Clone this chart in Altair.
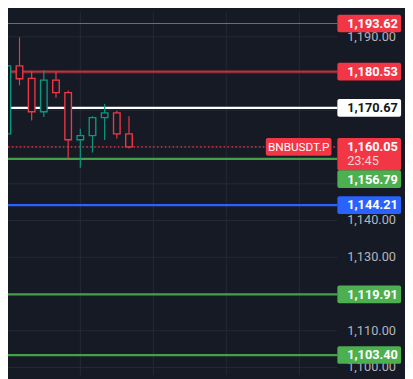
import altair as alt
import pandas as pd

# ---- data ----
candle_idx = list(range(11))
opens  = [1163.6, 1182.1, 1178.7, 1169.6, 1178.2, 1174.8, 1162.0, 1163.1, 1168.0, 1169.3, 1163.6]
highs  = [1182.6, 1189.8, 1180.6, 1180.9, 1180.6, 1175.4, 1165.0, 1168.4, 1171.7, 1169.9, 1168.4]
lows   = [1163.1, 1176.8, 1167.2, 1168.2, 1173.4, 1156.9, 1154.4, 1158.5, 1161.9, 1162.3, 1159.6]
closes = [1182.1, 1178.6, 1169.6, 1178.2, 1174.8, 1162.0, 1163.1, 1168.0, 1169.3, 1163.6, 1160.05]

grid_ticks = [1100, 1110, 1120, 1130, 1140, 1150, 1160, 1170, 1180, 1190]
# price-scale labels that are not hidden behind a tag in the reference
label_ticks = [1100, 1110, 1130, 1140, 1190]
time_grid = [6, 12, 18, 24]

level_values = [1193.62, 1180.53, 1170.67, 1156.79, 1144.21, 1119.91, 1103.40]
level_names  = ["r1", "r2", "w", "g1", "b", "g2", "g3"]
level_colors = ["#e23a48", "#b7343f", "#ffffff", "#43a047", "#2962ff", "#43a047", "#43a047"]
tag_colors   = ["#f23645", "#f23645", "#ffffff", "#4caf50", "#2962ff", "#4caf50", "#4caf50"]
tag_text_col = ["#ffffff", "#ffffff", "#131722", "#ffffff", "#ffffff", "#ffffff", "#ffffff"]
level_widths = [1.2, 2.2, 2.2, 2.2, 2.2, 2.2, 2.2]

last_price = 1160.05
symbol = "BNBUSDT.P"
countdown = "23:45"

# ---- layout ----
BG = "#161a25"
GRID = "#252a36"
W = 336
H = 371
TX = 346
y_scale = alt.Scale(domain=[1097.88, 1196.84], nice=False, zero=False)
x_scale = alt.Scale(domain=[0.055, 27.13], nice=False, zero=False)

candles = pd.DataFrame({"i": candle_idx, "open": opens, "high": highs,
                        "low": lows, "close": closes})
levels = pd.DataFrame({"name": level_names, "level": level_values,
                       "lcolor": level_colors, "tcolor": tag_colors,
                       "txtcolor": tag_text_col, "lw": level_widths})
gticks = pd.DataFrame({"p": grid_ticks})
lticks = pd.DataFrame({"p": label_ticks})
tgrid = pd.DataFrame({"t": time_grid})
last = pd.DataFrame({"p": [last_price], "sym": [symbol], "cd": [countdown]})

FONT = "Roboto"

grid_h = alt.Chart(gticks).mark_rule(color=GRID, strokeWidth=1).encode(
    y=alt.Y("p:Q", scale=y_scale, axis=None),
    x=alt.value(0), x2=alt.value(W))

grid_v = alt.Chart(tgrid).mark_rule(color=GRID, strokeWidth=1).encode(
    x=alt.X("t:Q", scale=x_scale, axis=None),
    y=alt.value(0), y2=alt.value(H))

axis_labels = alt.Chart(lticks).mark_text(
    align="left", baseline="middle", font=FONT, fontSize=13, color="#b2b5be"
).encode(y=alt.Y("p:Q", scale=y_scale, axis=None), x=alt.value(TX),
         text=alt.Text("p:Q", format=",.2f"))

dotted = alt.Chart(last).mark_rule(color="#f23645", strokeWidth=1.2,
                                   strokeDash=[1.5, 2.5]).encode(
    y=alt.Y("p:Q", scale=y_scale, axis=None), x=alt.value(0), x2=alt.value(W))

level_lines = alt.Chart(levels).mark_rule().encode(
    y=alt.Y("level:Q", scale=y_scale, axis=None),
    x=alt.value(0), x2=alt.value(W),
    color=alt.Color("lcolor:N", scale=None),
    strokeWidth=alt.StrokeWidth("lw:Q", scale=None))

dir_scale = alt.Scale(domain=["up", "down"], range=["#089981", "#f23645"])
cbase = alt.Chart(candles).transform_calculate(
    dir="datum.close >= datum.open ? 'up' : 'down'",
    bx1="datum.i - 0.27",
    bx2="datum.i + 0.27",
)

wicks = cbase.mark_rule(strokeWidth=1.2, clip=True).encode(
    x=alt.X("i:Q", scale=x_scale, axis=None),
    y=alt.Y("low:Q", scale=y_scale, axis=None), y2="high:Q",
    color=alt.Color("dir:N", scale=dir_scale, legend=None))

bodies = cbase.mark_rect(fill=BG, strokeWidth=1.4, clip=True).encode(
    x=alt.X("bx1:Q", scale=x_scale, axis=None), x2="bx2:Q",
    y=alt.Y("open:Q", scale=y_scale, axis=None), y2="close:Q",
    stroke=alt.Stroke("dir:N", scale=dir_scale, legend=None))

normal_levels = levels[levels["name"] != "g1"]
shift_levels = levels[levels["name"] == "g1"]

def tag_layer(df, shift):
    rect = alt.Chart(df).mark_rect(yOffset=-9 + shift, y2Offset=9 + shift,
                                   cornerRadius=2).encode(
        y=alt.Y("level:Q", scale=y_scale, axis=None), y2="level:Q",
        x=alt.value(336), x2=alt.value(401),
        color=alt.Color("tcolor:N", scale=None))
    txt = alt.Chart(df).mark_text(align="left", baseline="middle", font=FONT,
                                  fontSize=13, fontWeight="bold",
                                  dy=shift + 0.5).encode(
        y=alt.Y("level:Q", scale=y_scale, axis=None), x=alt.value(TX),
        text=alt.Text("level:Q", format=",.2f"),
        color=alt.Color("txtcolor:N", scale=None))
    return rect + txt

last_rect = alt.Chart(last).mark_rect(color="#f23645", yOffset=-9, y2Offset=24,
                                      cornerRadius=2).encode(
    y=alt.Y("p:Q", scale=y_scale, axis=None), y2="p:Q",
    x=alt.value(336), x2=alt.value(401))
last_txt = alt.Chart(last).mark_text(align="left", baseline="middle", font=FONT,
                                     fontSize=13, fontWeight="bold",
                                     color="#ffffff", dy=0.5).encode(
    y=alt.Y("p:Q", scale=y_scale, axis=None), x=alt.value(TX),
    text=alt.Text("p:Q", format=",.2f"))
cd_txt = alt.Chart(last).mark_text(align="left", baseline="middle", font=FONT,
                                   fontSize=13, color="#fbd3d7", dy=15).encode(
    y=alt.Y("p:Q", scale=y_scale, axis=None), x=alt.value(TX), text="cd:N")
sym_rect = alt.Chart(last).mark_rect(color="#f23645", yOffset=-9, y2Offset=9,
                                     cornerRadius=2).encode(
    y=alt.Y("p:Q", scale=y_scale, axis=None), y2="p:Q",
    x=alt.value(263), x2=alt.value(330))
sym_txt = alt.Chart(last).mark_text(align="center", baseline="middle", font=FONT,
                                    fontSize=12, color="#ffffff", dy=0.5).encode(
    y=alt.Y("p:Q", scale=y_scale, axis=None), x=alt.value(296.5), text="sym:N")

chart = alt.layer(
    grid_h, grid_v, dotted, level_lines, wicks, bodies, axis_labels,
    last_rect, last_txt, cd_txt, sym_rect, sym_txt,
    tag_layer(normal_levels, 0), tag_layer(shift_levels, 20.7),
).properties(
    width=W, height=H,
    autosize=alt.AutoSizeParams(type="none"),
    padding={"left": 0, "top": 0, "right": 69, "bottom": 0},
    background=BG,
).configure_view(stroke=None, fill=BG)

chart.save("out.html", embed_options={"renderer": "svg", "actions": False})
